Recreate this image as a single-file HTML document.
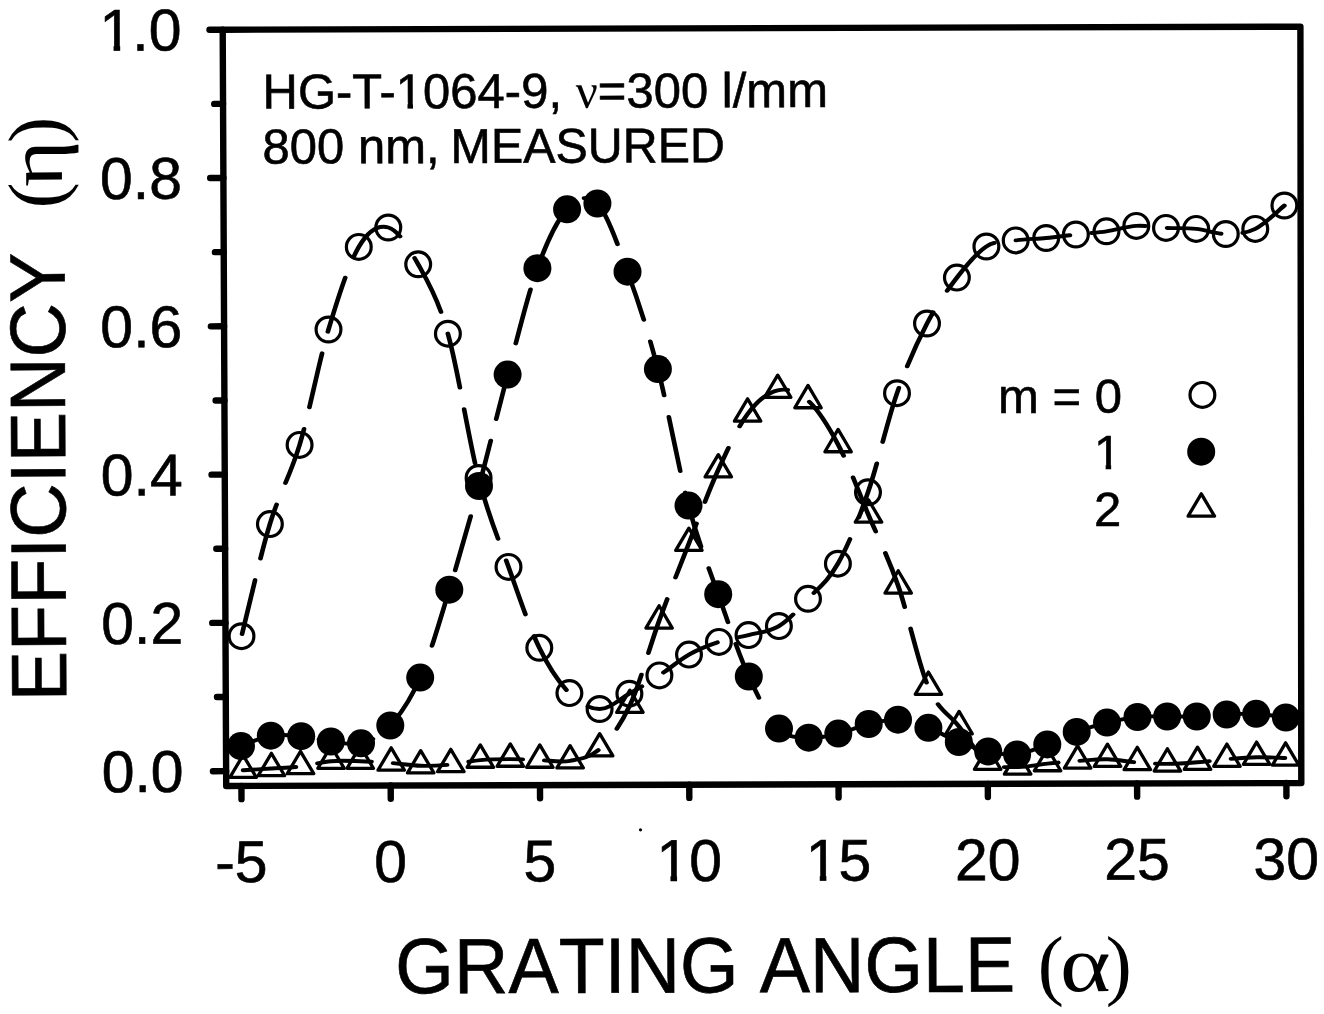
<!DOCTYPE html><html><head><meta charset="utf-8"><style>html,body{margin:0;padding:0;background:#fff;}svg{display:block;}.nk{font-kerning:none;font-feature-settings:"kern" 0;}.s{font-family:"Liberation Sans",Arial,Helvetica,sans-serif;stroke:#000;stroke-width:0.6px;}.r{font-family:"Liberation Serif","Times New Roman",serif;}</style></head><body>
<svg width="1324" height="1014" viewBox="0 0 1324 1014">
<rect width="1324" height="1014" fill="#fff"/>
<path d="M222.7 29.7L1300.4 26.6L1301.3 783L226.2 786Z" fill="none" stroke="#000" stroke-width="6.4" stroke-linejoin="round"/>
<path d="M226.131 771.171L212.931 771.209M225.788 697.024L216.988 697.049M225.445 622.876L212.245 622.914M225.102 548.729L216.302 548.755M224.759 474.582L211.559 474.62M224.416 400.435L215.616 400.461M224.073 326.288L210.873 326.326M223.729 252.141L214.929 252.166M223.386 177.994L210.186 178.032M223.043 103.847L214.243 103.872M222.7 29.7L209.5 29.738M241.426 785.958L241.487 799.157M390.704 785.541L390.765 798.741M539.982 785.124L540.043 798.324M689.26 784.708L689.321 797.908M838.538 784.291L838.599 797.491M987.816 783.875L987.877 797.075M1137.094 783.458L1137.155 796.658M1286.372 783.042L1286.433 796.242" fill="none" stroke="#000" stroke-width="6.4" stroke-linecap="round"/>
<text class="s" x="183.649" y="791.971" font-size="59" text-anchor="end" transform="rotate(-0.163 183.649 771.171)">0.0</text>
<text class="s" x="183.219" y="643.676" font-size="59" text-anchor="end" transform="rotate(-0.163 183.219 622.876)">0.2</text>
<text class="s" x="182.789" y="495.382" font-size="59" text-anchor="end" transform="rotate(-0.163 182.789 474.582)">0.4</text>
<text class="s" x="182.359" y="347.088" font-size="59" text-anchor="end" transform="rotate(-0.163 182.359 326.288)">0.6</text>
<text class="s" x="181.929" y="198.794" font-size="59" text-anchor="end" transform="rotate(-0.163 181.929 177.994)">0.8</text>
<text class="s" x="181.499" y="50.5" font-size="59" text-anchor="end" transform="rotate(-0.163 181.499 29.7)">1.0</text>
<text class="s" x="241.426" y="882.299" font-size="59" text-anchor="middle" transform="rotate(-0.163 241.426 882.3)">-5</text>
<text class="s" x="390.704" y="881.881" font-size="59" text-anchor="middle" transform="rotate(-0.163 390.704 882.3)">0</text>
<text class="s" x="539.982" y="881.463" font-size="59" text-anchor="middle" transform="rotate(-0.163 539.982 882.3)">5</text>
<text class="s" x="689.26" y="881.045" font-size="59" text-anchor="middle" transform="rotate(-0.163 689.26 882.3)">10</text>
<text class="s" x="838.538" y="880.627" font-size="59" text-anchor="middle" transform="rotate(-0.163 838.538 882.3)">15</text>
<text class="s" x="987.816" y="880.209" font-size="59" text-anchor="middle" transform="rotate(-0.163 987.816 882.3)">20</text>
<text class="s" x="1137.094" y="879.791" font-size="59" text-anchor="middle" transform="rotate(-0.163 1137.094 882.3)">25</text>
<text class="s" x="1286.372" y="879.373" font-size="59" text-anchor="middle" transform="rotate(-0.163 1286.372 882.3)">30</text>
<text class="s nk" x="0" y="0" font-size="75.5" transform="translate(66.2 701.3) rotate(-90.22) scale(1 1.04)">EFFICIENCY</text>
<text class="r" x="0" y="0" font-size="78" transform="translate(62.3 208.3) rotate(-90.22)">(</text>
<text class="r" x="0" y="0" font-size="78" transform="translate(62 186.7) rotate(-90.22) scale(1.14 1)">η</text>
<text class="r" x="0" y="0" font-size="78" transform="translate(62.3 142.8) rotate(-90.22)">)</text>
<text class="s nk" x="395.3" y="0" font-size="75.4" transform="rotate(-0.16 700 992) translate(0 992.5) scale(1 1.04)">GRATING ANGLE</text>
<text class="r" x="1037.7" y="990.5" font-size="78.5" transform="rotate(-0.16 1080 990)">(</text>
<text class="r" x="0" y="0" font-size="78.5" transform="rotate(-0.16 1080 990) translate(1060 991.2) scale(1.233 1.02)">α</text>
<text class="r" x="1105.7" y="990.5" font-size="78.5" transform="rotate(-0.16 1080 990)">)</text>
<text x="262.5" y="108.6" font-size="49" transform="rotate(-0.163 262 108)"><tspan class="s">HG-T-1064-9, </tspan><tspan class="r">ν</tspan><tspan class="s">=300 l/mm</tspan></text>
<text class="s" x="262.6" y="163.5" font-size="49" transform="rotate(-0.163 262 163)">800 nm,</text>
<text class="s" x="0" y="0" font-size="49" transform="rotate(-0.163 262 163) translate(450.6 163.5) scale(0.988 1)">MEASURED</text>
<text class="s" x="998" y="412.6" font-size="49" xml:space="preserve">m = 0</text>
<text class="s" x="1094" y="469.4" font-size="49">1</text>
<text class="s" x="1094" y="526" font-size="49">2</text>
<g transform="scale(1.2 1)" fill="none" stroke="#000" stroke-width="3.9" stroke-linecap="round">
<path d="M201.69 634.1C203.94 623.24 208.04 602.15 212.56 580.1M217.06 558.5C219.8 545.68 222.52 533.58 224.92 524.1C226.76 516.82 228.63 510.42 230.51 504.5M237.9 482.9C241.85 471.72 245.81 460.29 249.67 444.9C250.91 439.94 252.15 434.56 253.38 428.9M257.82 407.3C261.34 389.45 264.84 370.46 268.4 353.3M273.21 331.7C273.39 330.96 273.57 330.23 273.75 329.5C278.3 311.25 282.99 293.13 287.69 277.7M295.02 256.1C296.36 252.68 297.68 249.59 299 246.9C307.31 229.9 315.33 224.6 323.58 227.5C326.83 228.64 330.1 231.84 333.37 236.38M345.5 257.98C346.5 260.05 347.5 262.16 348.5 264.3C354.87 277.93 361.13 290.6 367.51 311.98M373.22 333.58C373.23 333.62 373.24 333.66 373.25 333.7C376.55 347.7 379.9 366.97 383.27 387.58M386.76 409.18C389.81 428.17 392.85 447.14 395.86 463.18M400.34 484.78C405.3 506.66 410.16 523.01 415.06 538.78M421.78 560.38C422.44 562.52 423.09 564.69 423.75 566.9C428.4 582.5 433.15 599.1 437.9 614.38M444.99 635.98C446.47 640.19 447.95 644.15 449.42 647.8C457.04 666.77 464.5 680.07 472.03 689.98M489.9 706.44C493.16 708.09 496.42 708.96 499.67 709C508 709.1 516.19 699.3 524.5 693.7C527.95 691.37 531.42 688.94 534.9 686.43M552.9 672.61C560.01 666.56 567.04 659.42 574.17 654.6C582.03 649.28 590.02 645.52 597.9 642.37M615.9 637.21C618.5 636.6 621.11 635.93 623.75 635.1C632.08 632.47 640.82 632.15 649.08 626.1C653.1 623.16 657 619.09 660.9 614.48M678.2 592.95C684.83 585.24 691.56 577.95 698.25 563.7C701.58 556.61 704.94 548.33 708.3 539.12M715.67 517.52C718.25 509.5 720.81 501.05 723.33 492.3C725.81 483.73 728.24 473.88 730.66 463.52M735.58 441.92C739.52 424.46 743.46 407.08 747.5 393.2C748.02 391.42 748.54 389.66 749.06 387.92M755.97 366.32C761.47 350.2 767.02 336.19 772.5 323.5C774.2 319.56 775.91 315.84 777.61 312.32M789.26 290.72C791.99 286.14 794.71 281.82 797.42 277.6C805.67 264.77 813.83 252.7 822 246.5C824.21 244.82 826.41 243.7 828.61 242.95M846.61 240.37C854.86 238.98 863.54 238.98 871.83 238C878.53 237.21 885 236.16 891.61 235.2M909.61 232.99C913.79 232.51 917.98 232 922.08 231.3C930.47 229.87 938.65 226.47 946.92 225.9C949.49 225.72 952.05 225.8 954.61 226.01M972.61 227.95C980.63 228.36 988.84 227.92 996.83 228.9C1003.82 229.76 1010.71 232.78 1017.61 233.72M1035.61 232.89C1039.11 232.16 1042.61 230.93 1046.08 228.9C1054.22 224.15 1066.29 209.4 1070.33 205.5"/>
<path d="M202.75 745.22C208 742.69 218.35 737.14 225.67 735.7C232.95 734.26 240.43 734.97 247.75 735.82M265.75 739.38C269.07 740.22 272.39 741.02 275.75 741.5C284.06 742.68 292.58 745.97 300.83 743.3C304.18 742.22 307.47 740.89 310.75 738.96M328.2 721.44C335.49 711.03 342.95 697.54 350.17 677.6C351.32 674.41 352.47 671.02 353.61 667.44M359.96 645.84C364.58 629 369.18 610.23 373.87 591.84M379.31 570.24C383.61 552.91 387.95 534.72 392.24 516.24M397.21 494.64C397.86 491.76 398.52 488.88 399.17 486C402.49 471.31 405.73 456.04 408.95 440.64M413.47 419.04C416.61 404.03 419.76 389.08 423 374.6C423.7 371.46 424.41 368.26 425.12 365.04M429.81 343.44C433.87 324.68 437.99 305.84 442.08 289.44M447.94 267.84C455.13 243.94 462.23 225.32 469.44 213.84M486.73 198.06C490.44 197.42 494.15 198.93 497.83 203.5C503.44 210.45 509 226.23 514.58 244.18M521.12 265.78C521.72 267.76 522.32 269.74 522.92 271.7C527.43 286.54 531.97 302.31 536.51 319.78M541.91 341.38C544.02 350.16 546.14 359.38 548.25 369.1C549.99 377.1 551.73 385.98 553.48 395.38M557.38 416.98C560.56 434.96 563.73 453.71 566.88 470.98M571 492.58C571.92 497.15 572.84 501.51 573.75 505.6C577.27 521.38 580.73 534.52 584.18 546.58M590.61 568.18C593.22 576.7 595.84 585.15 598.5 594.2C601.19 603.35 603.92 612.81 606.65 622.18M613.09 643.78C616.74 655.71 620.39 666.93 624 676.5C626.83 684 629.65 691.17 632.46 697.78M642.95 719.38C645.03 722.96 647.1 726.07 649.17 728.6C657.49 738.8 665.68 736.87 673.92 737.7C678.12 738.13 682.29 737.64 686.48 736.76M704.48 731.62C710.96 729.13 717.56 725.78 723.92 724C732.21 721.68 740.04 719.07 748.33 719.7C748.71 719.73 749.1 719.76 749.48 719.81M767.48 725.12C769.55 725.99 771.61 726.9 773.67 727.8C782.11 731.52 790.69 738.07 799 742C803.54 744.15 808.02 746.14 812.48 747.85M830.48 753.12C836.14 754.41 841.75 755.23 847.58 754.4C855.79 753.23 864.47 748.15 872.75 744.4C873.66 743.99 874.57 743.56 875.48 743.11M893.48 733.66C894.73 733.04 895.98 732.45 897.25 731.9C905.54 728.27 914.06 725.08 922.5 722.6C927.79 721.04 933.15 719.64 938.48 718.55M956.48 716.43C961.89 716.32 967.26 716.55 972.67 716.5C980.9 716.42 989.07 716.83 997.33 716.5C998.71 716.44 1000.09 716.36 1001.48 716.27M1019.48 714.68C1020.4 714.61 1021.33 714.55 1022.25 714.5C1030.5 714.05 1038.61 713.3 1046.83 713.8C1052.09 714.12 1059.06 715.29 1064.48 716.26"/>
<path d="M202.58 770.3C206.51 770 218.19 769.13 226.17 768.5C232.9 767.96 239.66 767.77 246.58 767M264.58 763.36C268.38 762.44 272.16 761.59 275.83 761.2C284.12 760.32 291.81 760.9 300.17 761.2C303.23 761.31 306.39 761.48 309.58 761.69M327.58 763.16C335.4 763.99 342.83 765.57 350.58 765.8C357.84 766.02 365.28 765.59 372.58 764.84M390.58 761.73C393.79 761.06 397 760.45 400.25 760.1C408.51 759.2 416.99 759.1 425.25 759.1C428.73 759.1 432.16 759.23 435.58 759.39M453.58 760.34C460.71 760.98 468.01 762.4 475.08 760.8C483.01 759 490.69 758.13 498.58 750.05M514.02 728.71C517.68 722.23 521.33 714.56 524.92 705.3C528.16 696.91 531.36 686.23 534.53 674.71M540.32 653.11C543.28 641.94 546.24 630.81 549.25 620.9C551.49 613.53 553.74 606.27 556 599.11M562.92 577.51C566.66 565.98 570.39 554.62 574.08 543.3C576.22 536.77 578.34 530.13 580.46 523.51M587.43 501.91C591.15 490.55 594.86 479.63 598.58 469.8C601.41 462.34 604.21 454.94 607.02 447.91M616.35 426.31C618.55 421.73 620.77 417.58 623 414C631.25 400.75 639.69 392.53 648.08 390.3C650.86 389.56 653.64 389.45 656.43 389.95M674.43 401.82C682.44 411.04 690.38 426.36 698.42 444.6C699.95 448.07 701.48 451.83 703.02 455.8M710.86 477.4C715.18 489.89 719.49 502.99 723.75 515C725.76 520.68 727.76 526.08 729.75 531.4M737.76 553C741.33 562.89 744.89 573.45 748.5 585.9C750.31 592.13 752.11 599.32 753.93 607M758.83 628.6C763.24 648.45 767.66 668.69 772.11 682.6M781.68 704.2C787.62 713.69 793.59 718 799.25 726.6C806.04 736.93 812.28 749.9 818.82 757.89M836.82 767.12C840.55 767.27 844.3 766.9 848 767C856.32 767.23 864.58 764.6 872.92 763.6C875.88 763.24 878.85 762.9 881.82 762.58M899.82 760.84C907.54 760.11 915.23 759.07 922.92 759.3C930.23 759.52 937.5 761.25 944.82 762.18M962.82 763.64C966.16 763.82 969.5 763.91 972.83 763.9C981.19 763.87 989.65 763.08 997.92 762.3C1001.25 761.98 1004.54 761.56 1007.82 761.11M1025.82 758.85C1032.93 758.1 1040.14 757.37 1047.17 757.2C1055 757.01 1066.36 757.8 1070.82 757.98"/>
</g>
<g fill="none" stroke="#000" stroke-width="3.2">
<circle cx="241.5" cy="636.2" r="12.4"/>
<circle cx="269.9" cy="524.1" r="12.4"/>
<circle cx="299.6" cy="444.9" r="12.4"/>
<circle cx="328.5" cy="329.5" r="12.4"/>
<circle cx="358.8" cy="246.9" r="12.4"/>
<circle cx="388.3" cy="227.5" r="12.4"/>
<circle cx="418.2" cy="264.3" r="12.4"/>
<circle cx="447.9" cy="333.7" r="12.4"/>
<circle cx="478.6" cy="478" r="12.4"/>
<circle cx="508.5" cy="566.9" r="12.4"/>
<circle cx="539.3" cy="647.8" r="12.4"/>
<circle cx="569.4" cy="693.1" r="12.4"/>
<circle cx="599.6" cy="709" r="12.4"/>
<circle cx="629.4" cy="693.7" r="12.4"/>
<circle cx="659.4" cy="675.4" r="12.4"/>
<circle cx="689" cy="654.6" r="12.4"/>
<circle cx="718.9" cy="641.9" r="12.4"/>
<circle cx="748.5" cy="635.1" r="12.4"/>
<circle cx="778.9" cy="626.1" r="12.4"/>
<circle cx="808" cy="598.8" r="12.4"/>
<circle cx="837.9" cy="563.7" r="12.4"/>
<circle cx="868" cy="492.3" r="12.4"/>
<circle cx="897" cy="393.2" r="12.4"/>
<circle cx="927" cy="323.5" r="12.4"/>
<circle cx="956.9" cy="277.6" r="12.4"/>
<circle cx="986.4" cy="246.5" r="12.4"/>
<circle cx="1015.7" cy="240.4" r="12.4"/>
<circle cx="1046.2" cy="238" r="12.4"/>
<circle cx="1075.9" cy="234.5" r="12.4"/>
<circle cx="1106.5" cy="231.3" r="12.4"/>
<circle cx="1136.3" cy="225.9" r="12.4"/>
<circle cx="1166" cy="227.9" r="12.4"/>
<circle cx="1196.2" cy="228.9" r="12.4"/>
<circle cx="1225.8" cy="234" r="12.4"/>
<circle cx="1255.3" cy="228.9" r="12.4"/>
<circle cx="1284.4" cy="205.5" r="12.4"/>
<circle cx="1202.4" cy="394.9" r="12.4"/>
</g>
<g fill="#000">
<circle cx="241" cy="746.1" r="14"/>
<circle cx="270.8" cy="735.7" r="14"/>
<circle cx="301.2" cy="736.2" r="14"/>
<circle cx="330.9" cy="741.5" r="14"/>
<circle cx="361" cy="743.3" r="14"/>
<circle cx="390.3" cy="725.5" r="14"/>
<circle cx="420.2" cy="677.6" r="14"/>
<circle cx="449.3" cy="589.7" r="14"/>
<circle cx="479" cy="486" r="14"/>
<circle cx="507.6" cy="374.6" r="14"/>
<circle cx="537.4" cy="268.2" r="14"/>
<circle cx="567.1" cy="209.3" r="14"/>
<circle cx="597.4" cy="203.5" r="14"/>
<circle cx="627.5" cy="271.7" r="14"/>
<circle cx="657.9" cy="369.1" r="14"/>
<circle cx="688.5" cy="505.6" r="14"/>
<circle cx="718.2" cy="594.2" r="14"/>
<circle cx="748.8" cy="676.5" r="14"/>
<circle cx="779" cy="728.6" r="14"/>
<circle cx="808.7" cy="737.7" r="14"/>
<circle cx="838.3" cy="733.6" r="14"/>
<circle cx="868.7" cy="724" r="14"/>
<circle cx="898" cy="719.7" r="14"/>
<circle cx="928.4" cy="727.8" r="14"/>
<circle cx="958.8" cy="742" r="14"/>
<circle cx="988.2" cy="751.4" r="14"/>
<circle cx="1017.1" cy="754.4" r="14"/>
<circle cx="1047.3" cy="744.4" r="14"/>
<circle cx="1076.7" cy="731.9" r="14"/>
<circle cx="1107" cy="722.6" r="14"/>
<circle cx="1137.5" cy="717" r="14"/>
<circle cx="1167.2" cy="716.5" r="14"/>
<circle cx="1196.8" cy="716.5" r="14"/>
<circle cx="1226.7" cy="714.5" r="14"/>
<circle cx="1256.2" cy="713.8" r="14"/>
<circle cx="1285.9" cy="717.5" r="14"/>
<circle cx="1201.2" cy="451.7" r="14"/>
</g>
<g fill="none" stroke="#000" stroke-width="3.3" stroke-linejoin="round">
<path d="M243.1 755.15L256.3 777.45L229.9 777.45Z"/>
<path d="M271.4 753.35L284.6 775.65L258.2 775.65Z"/>
<path d="M300.5 751.35L313.7 773.65L287.3 773.65Z"/>
<path d="M331 746.05L344.2 768.35L317.8 768.35Z"/>
<path d="M360.2 746.05L373.4 768.35L347 768.35Z"/>
<path d="M391.2 747.85L404.4 770.15L378 770.15Z"/>
<path d="M420.7 750.65L433.9 772.95L407.5 772.95Z"/>
<path d="M450.8 749.35L464 771.65L437.6 771.65Z"/>
<path d="M480.3 744.95L493.5 767.25L467.1 767.25Z"/>
<path d="M510.3 743.95L523.5 766.25L497.1 766.25Z"/>
<path d="M539.8 744.95L553 767.25L526.6 767.25Z"/>
<path d="M570.1 745.65L583.3 767.95L556.9 767.95Z"/>
<path d="M599.7 733.65L612.9 755.95L586.5 755.95Z"/>
<path d="M629.9 690.15L643.1 712.45L616.7 712.45Z"/>
<path d="M659.1 605.75L672.3 628.05L645.9 628.05Z"/>
<path d="M688.9 528.15L702.1 550.45L675.7 550.45Z"/>
<path d="M718.3 454.65L731.5 476.95L705.1 476.95Z"/>
<path d="M747.6 398.85L760.8 421.15L734.4 421.15Z"/>
<path d="M777.7 375.15L790.9 397.45L764.5 397.45Z"/>
<path d="M808 385.45L821.2 407.75L794.8 407.75Z"/>
<path d="M838.1 429.45L851.3 451.75L824.9 451.75Z"/>
<path d="M868.5 499.85L881.7 522.15L855.3 522.15Z"/>
<path d="M898.2 570.75L911.4 593.05L885 593.05Z"/>
<path d="M928.4 672.05L941.6 694.35L915.2 694.35Z"/>
<path d="M959.1 711.45L972.3 733.75L945.9 733.75Z"/>
<path d="M987.6 747.05L1000.8 769.35L974.4 769.35Z"/>
<path d="M1017.6 751.85L1030.8 774.15L1004.4 774.15Z"/>
<path d="M1047.5 748.45L1060.7 770.75L1034.3 770.75Z"/>
<path d="M1077.6 745.85L1090.8 768.15L1064.4 768.15Z"/>
<path d="M1107.5 744.15L1120.7 766.45L1094.3 766.45Z"/>
<path d="M1137.3 747.35L1150.5 769.65L1124.1 769.65Z"/>
<path d="M1167.4 748.75L1180.6 771.05L1154.2 771.05Z"/>
<path d="M1197.5 747.15L1210.7 769.45L1184.3 769.45Z"/>
<path d="M1226.9 744.05L1240.1 766.35L1213.7 766.35Z"/>
<path d="M1256.6 742.05L1269.8 764.35L1243.4 764.35Z"/>
<path d="M1285.6 742.85L1298.8 765.15L1272.4 765.15Z"/>
<path d="M1201.3 493.85L1214.5 516.15L1188.1 516.15Z"/>
</g>
<g fill="#fff"><g transform="rotate(-0.163 181.499 29.7)"><rect x="102.42" y="44.01" width="11.09" height="7.99"/><rect x="120.12" y="44.01" width="10.62" height="7.99"/></g><g transform="rotate(-0.163 689.26 882.3)"><rect x="659.39" y="874.55" width="11.09" height="7.99"/><rect x="677.09" y="874.55" width="10.62" height="7.99"/></g><g transform="rotate(-0.163 838.538 882.3)"><rect x="808.67" y="874.14" width="11.09" height="7.99"/><rect x="826.37" y="874.14" width="10.62" height="7.99"/></g><g transform="rotate(-0.163 262 108)"><rect x="398.31" y="103.21" width="9.21" height="6.89"/><rect x="413.01" y="103.21" width="8.82" height="6.89"/></g><rect x="1096.45" y="464.01" width="9.21" height="6.89"/><rect x="1111.15" y="464.01" width="8.82" height="6.89"/></g><circle cx="640.5" cy="829.8" r="1.6" fill="#000"/>
</svg></body></html>
